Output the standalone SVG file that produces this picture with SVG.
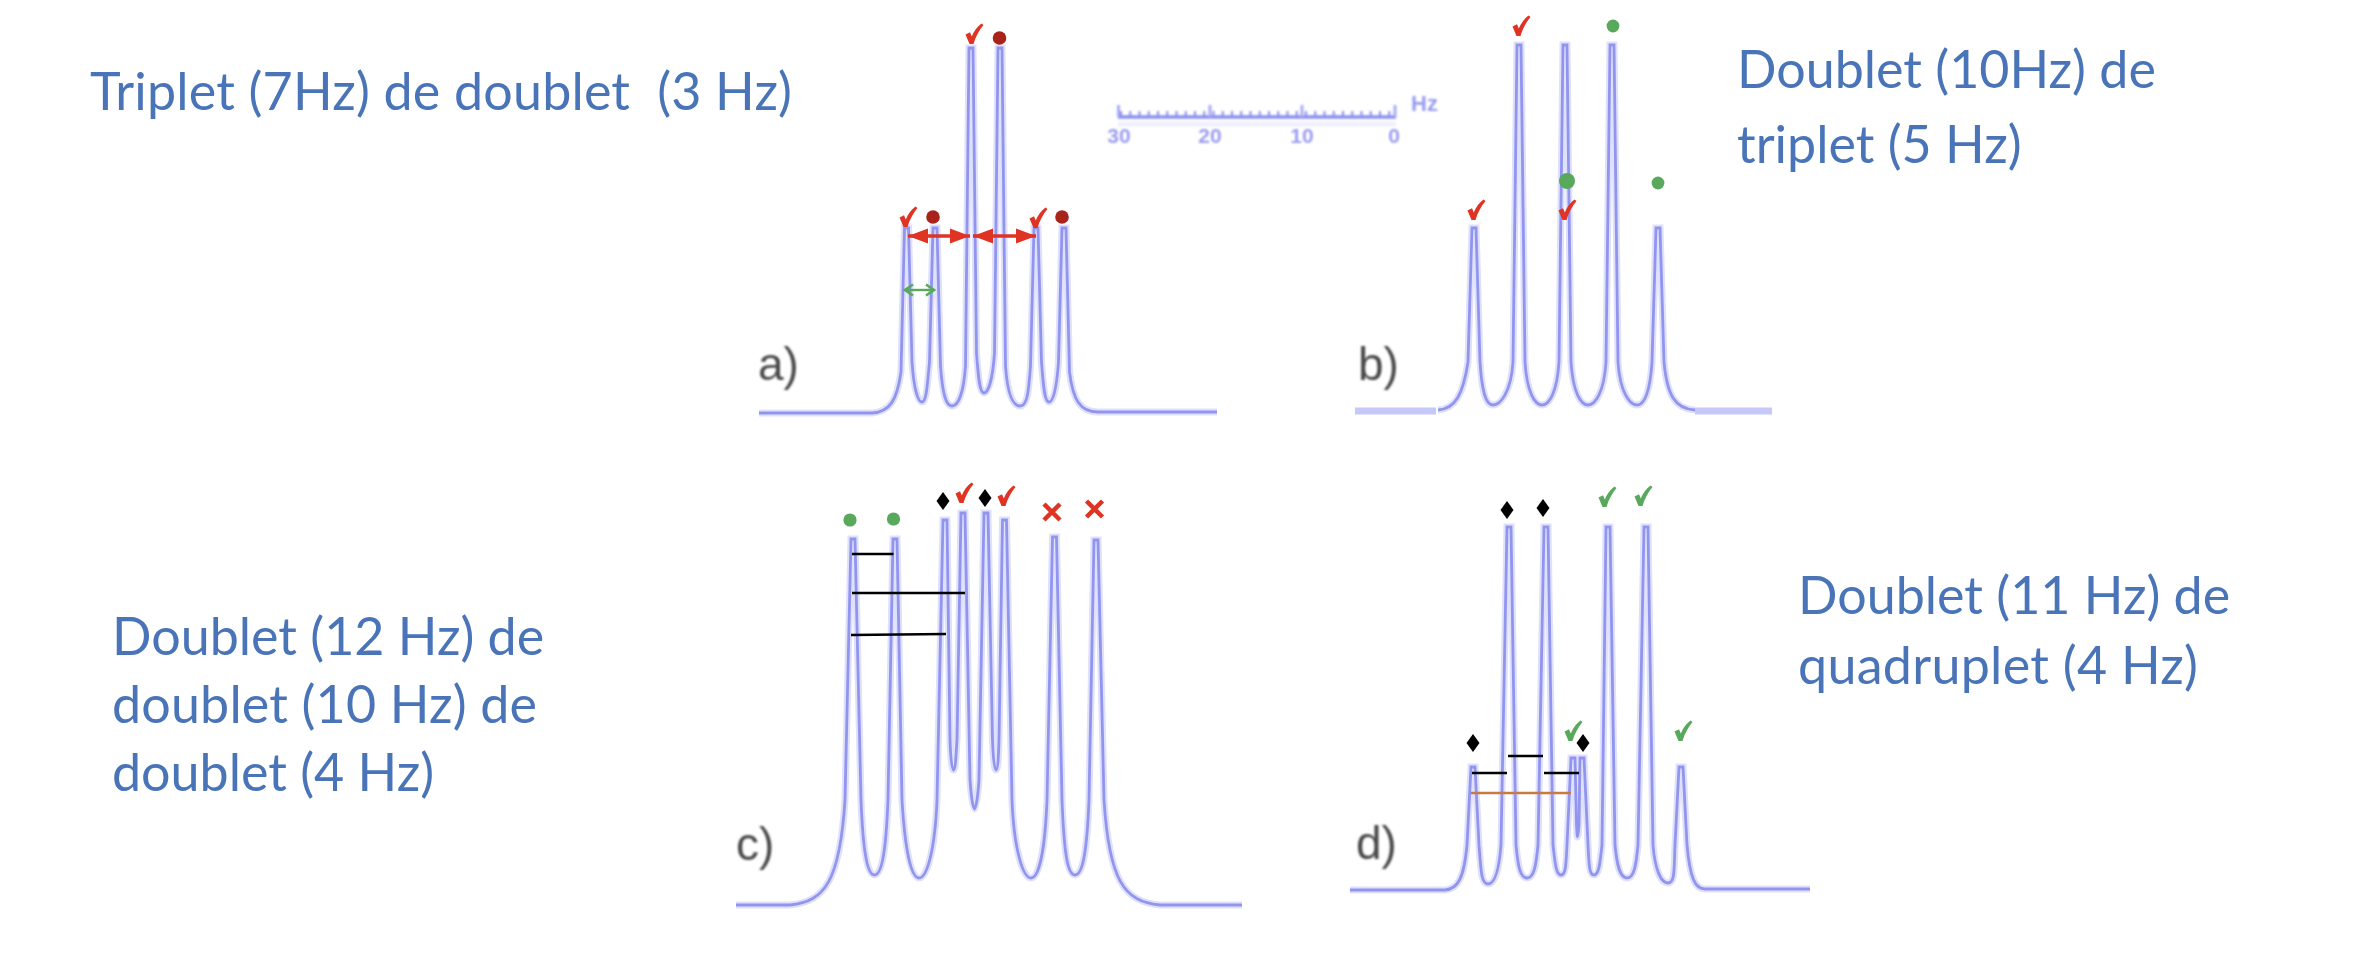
<svg xmlns="http://www.w3.org/2000/svg" width="2380" height="964" viewBox="0 0 2380 964">
<style>
.t{font-family:Lato,"Liberation Sans",sans-serif;font-size:52px;fill:#4a74b8;white-space:pre}
.lab{font-family:"Liberation Sans",sans-serif;font-size:46px;fill:#4a4a4a}
.sc{font-family:"Liberation Sans",sans-serif;font-size:21px;font-weight:bold;fill:#9a9cf0;text-anchor:middle}
.halo{fill:none;stroke:#dfe0fc;stroke-width:7;stroke-linejoin:miter}
.core{fill:none;stroke:#9195ee;stroke-width:2.8;stroke-linejoin:miter}
.pale{fill:none;stroke:#c6c8f8;stroke-width:7}
.bar{fill:none;stroke:#000;stroke-width:2.4}
.org{fill:none;stroke:#c77b43;stroke-width:2.4}
.rd{fill:#df3323}.gc{fill:#58a95c}.dk{fill:#a9231a}.gd{fill:#58a95c}.di{fill:#000}
.x{fill:none;stroke:#df3323;stroke-width:4.5}
.ra{fill:none;stroke:#df3323;stroke-width:3.6;marker-start:url(#ah);marker-end:url(#ah)}
.ga{fill:none;stroke:#58a95c;stroke-width:2.4;marker-start:url(#gh);marker-end:url(#gh)}
</style>
<defs>
<filter id="soft" x="-5%" y="-5%" width="110%" height="110%"><feGaussianBlur stdDeviation="0.75"/></filter>
<filter id="soft2" x="-10%" y="-10%" width="120%" height="120%"><feGaussianBlur stdDeviation="0.9"/></filter>
<marker id="ah" markerUnits="userSpaceOnUse" markerWidth="22" markerHeight="18" refX="20" refY="9" orient="auto-start-reverse"><path d="M0 1.5 L20 9 L0 16.5 Z" fill="#df3323"/></marker>
<marker id="gh" markerUnits="userSpaceOnUse" markerWidth="14" markerHeight="14" refX="11" refY="7" orient="auto-start-reverse"><path d="M3 1.5 L11 7 L3 12.5" fill="none" stroke="#58a95c" stroke-width="2.6"/></marker>
<path id="chk" d="M-8.5 0.5 L-4 -1.8 L-2.2 2.6 C0 -3 3.5 -7.5 7.5 -10.5 L9.5 -9 C5 -3.5 1.5 3 -0.5 10 L-4.5 10 Z"/>
<path id="dia" d="M0 -9 L6.5 0 L0 9 L-6.5 0 Z"/>
<path id="xm" d="M-8 -8 L8 8 M8 -8 L-8 8"/>
<path id="pa" d="M759 413 H872 C890 412 897 400 901 372 L904.5 228 H908.5 L912 362 C914 390 918 402 922 402 C926 402 927 390 929.5 362 L933 228 H937 L940.5 366 C942.5 394 946 406 952 406 C958 406 963.5 394 965.5 366 L969 48 H973 L976.5 353 C978.5 381 980 393 984 393 C988 393 992.5 381 994.5 353 L998 48 H1002 L1005.5 366 C1007.5 394 1013 406 1020 406 C1027 406 1028.5 394 1030.5 366 L1034 228 H1038 L1041.5 362 C1043.5 390 1045 402 1049 402 C1053 402 1056.5 390 1058.5 362 L1062 228 H1066 L1069.5 372 C1073 400 1080 412 1098 412 H1217"/>
<path id="pb" d="M1438 410 C1455 409 1463 395 1468 362 L1472 228 H1476 L1480 362 C1482 393 1486 405 1493 405 C1500 405 1511 393 1513 362 L1517 45 H1521 L1525 362 C1527 393 1535 405 1542 405 C1549 405 1557 393 1559 362 L1563 45 H1567 L1571 362 C1573 393 1581 405 1588 405 C1595 405 1604 393 1606 362 L1610 45 H1614 L1618 362 C1620 393 1630 405 1637 405 C1644 405 1650 393 1652 362 L1656 228 H1660 L1664 362 C1667 395 1675 409 1695 410"/>
<path id="pc" d="M736 905 H790 C825 902 840 880 845 800 L851 539 H855 L861 800 C863 850 867 875 874.5 875 C882 875 886 850 888 800 L893 539 H897 L902 800 C905 850 911 878 919 878 C927 878 935 850 937 800 L943 520 H947 L950 740 C950.5 755 951.5 770 953.5 770 C955.5 770 956 755 957 740 L961 513 H965 L970 780 C971 795 973 809 974.5 809 C976 809 978 795 979 780 L984 513 H988 L992.5 740 C993 755 994 770 996 770 C998 770 998.5 755 999 740 L1002.5 520 H1006.5 L1012 800 C1014 850 1023 878 1031 878 C1039 878 1045 850 1047 800 L1052.5 537 H1056.5 L1062 800 C1064 850 1067 875 1075 875 C1083 875 1087 850 1089 800 L1094 540 H1098 L1104 800 C1109 880 1124 902 1160 905 H1242"/>
<path id="pd" d="M1350 890 H1445 C1458 889 1464 878 1467 845 L1471 767 H1475 L1479 845 C1481 870 1481 884 1488 884 C1495 884 1499 870 1501 845 L1507 527 H1511 L1516 845 C1518 866 1520 878 1527 878 C1534 878 1536 866 1538 845 L1544 527 H1548 L1553 845 C1555 863 1556 875 1561 875 C1566 875 1566 863 1567 845 L1571 758 H1575 L1576.5 825 C1577 832 1577 837 1577.5 837 C1578 837 1578.5 832 1579 825 L1580 758 H1584 L1588 845 C1589 863 1589 875 1594 875 C1599 875 1600 863 1602 845 L1606 527 H1610 L1615 845 C1617 866 1620 878 1627 878 C1634 878 1636 866 1638 845 L1644 527 H1648 L1653 845 C1655 870 1661 883 1668 883 C1675 883 1674 870 1675 845 L1679 767 H1683 L1687 845 C1690 878 1695 889 1705 889 H1810"/>
</defs>
<rect width="2380" height="964" fill="#fff"/>

<g id="title-a"><text class="t" x="90" y="110" textLength="702">Triplet (7Hz) de doublet  (3 Hz)</text></g>
<g id="title-b"><text class="t" x="1737" y="88">Doublet (10Hz) de</text><text class="t" x="1737" y="163">triplet (5 Hz)</text></g>
<g id="title-c"><text class="t" x="112" y="655">Doublet (12 Hz) de</text><text class="t" x="112" y="723" textLength="425">doublet (10 Hz) de</text><text class="t" x="112" y="791">doublet (4 Hz)</text></g>
<g id="title-d"><text class="t" x="1798" y="614">Doublet (11 Hz) de</text><text class="t" x="1798" y="684" textLength="400">quadruplet (4 Hz)</text></g>

<g id="scale" filter="url(#soft2)">
<path d="M1118 117 H1396" fill="none" stroke="#8a8eec" stroke-width="3.5"/>
<path d="M1118 124 H1396" fill="none" stroke="#f0f0fe" stroke-width="5"/>
<path d="M1120 114 H1396" fill="none" stroke="#8a8eec" stroke-width="6" stroke-dasharray="2 7.25"/>
<path d="M1118.5 105 V117 M1210 105 V117 M1302 105 V117 M1395 105 V117" fill="none" stroke="#a9abf3" stroke-width="3"/>
<text class="sc" x="1119" y="143">30</text><text class="sc" x="1210" y="143">20</text><text class="sc" x="1302" y="143">10</text><text class="sc" x="1394" y="143">0</text>
<text class="sc" style="font-size:22px;text-anchor:start" x="1411" y="111">Hz</text>
</g>

<g id="spectrum-a" filter="url(#soft)"><use href="#pa" class="halo"/><use href="#pa" class="core"/></g>
<g id="spectrum-b" filter="url(#soft)"><path class="pale" d="M1355 411 H1436 M1695 411 H1772"/><use href="#pb" class="halo"/><use href="#pb" class="core"/></g>
<g id="spectrum-c" filter="url(#soft)"><use href="#pc" class="halo"/><use href="#pc" class="core"/></g>
<g id="spectrum-d" filter="url(#soft)"><use href="#pd" class="halo"/><use href="#pd" class="core"/></g>

<g id="label-a" filter="url(#soft2)"><text class="lab" x="758" y="380">a)</text></g>
<g id="label-b" filter="url(#soft2)"><text class="lab" x="1358" y="380">b)</text></g>
<g id="label-c" filter="url(#soft2)"><text class="lab" x="736" y="860">c)</text></g>
<g id="label-d" filter="url(#soft2)"><text class="lab" x="1356" y="859">d)</text></g>

<g id="markers-a">
<use href="#chk" class="rd" x="974" y="34"/><use href="#chk" class="rd" x="908" y="217"/><use href="#chk" class="rd" x="1038" y="218"/>
<circle class="dk" cx="999.5" cy="38" r="6.8"/><circle class="dk" cx="933" cy="217" r="6.8"/><circle class="dk" cx="1062" cy="217" r="6.8"/>
</g>
<g id="markers-b">
<use href="#chk" class="rd" x="1476" y="210"/><use href="#chk" class="rd" x="1521" y="26"/><use href="#chk" class="rd" x="1567" y="210"/>
<circle class="gd" cx="1613" cy="26" r="6.4"/><circle class="gd" cx="1567" cy="181" r="8"/><circle class="gd" cx="1658" cy="183" r="6.4"/>
</g>
<g id="markers-c">
<circle class="gd" cx="850" cy="520" r="6.6"/><circle class="gd" cx="893.5" cy="519" r="6.6"/>
<use href="#dia" class="di" x="943" y="501"/><use href="#dia" class="di" x="985" y="498"/>
<use href="#chk" class="rd" x="964" y="493"/><use href="#chk" class="rd" x="1006" y="496"/>
<use href="#xm" class="x" x="1052" y="512"/><use href="#xm" class="x" x="1094.5" y="509"/>
</g>
<g id="markers-d">
<use href="#dia" class="di" x="1473" y="743"/><use href="#dia" class="di" x="1507" y="510"/><use href="#dia" class="di" x="1543" y="508"/><use href="#dia" class="di" x="1583" y="743"/>
<use href="#chk" class="gc" x="1607" y="497"/><use href="#chk" class="gc" x="1643" y="496"/><use href="#chk" class="gc" x="1573" y="731"/><use href="#chk" class="gc" x="1683" y="731"/>
</g>

<g id="connectors">
<path class="ra" d="M908 236 H970"/>
<path class="ra" d="M973 236 H1036"/>
<path class="ga" d="M905 290 H934"/>
<path class="bar" d="M852 554 H893.5"/>
<path class="bar" d="M852 593 H965"/>
<path class="bar" d="M851 635 L946 634"/>
<path class="bar" d="M1472 773 H1507"/>
<path class="bar" d="M1508 756 H1543"/>
<path class="bar" d="M1544 773 H1579"/>
<path class="org" d="M1471 793 H1571"/>
</g>
</svg>
